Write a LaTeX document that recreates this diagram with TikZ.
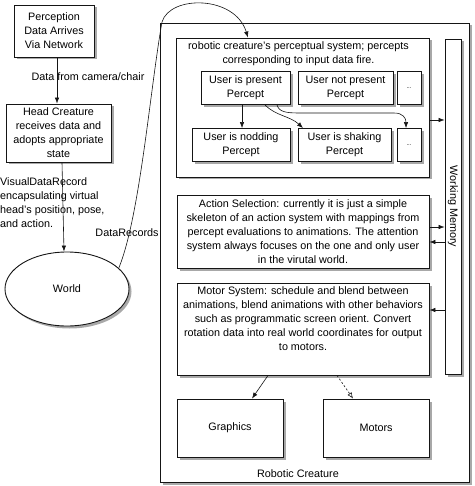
\documentclass[tikz,border=0pt]{standalone}
\usepackage{fontspec}
\setmainfont{Liberation Sans}
\usetikzlibrary{arrows.meta,positioning,shapes.geometric,shadows}
\def\wThin{0.6pt}
\def\wRegular{0.9pt}
\definecolor{cInk}{HTML}{151515}
\definecolor{cShade}{HTML}{8C8C8C}
\tikzset{
  fig/.style={font=\fontsize{10.8}{14}\selectfont, every node/.style={align=center}},
  box/.style={draw=cInk, line width=\wRegular, fill=white, inner sep=2pt,
    drop shadow={shadow xshift=2.5pt, shadow yshift=-2.5pt, fill=cShade, opacity=0.75}},
  outer/.style={box, line width=\wThin, minimum width=309, minimum height=459},
  percept/.style={box, minimum height=33},
  dots/.style={percept, minimum width=24, font=\fontsize{6}{7}\selectfont},
  world/.style={box, ellipse, minimum width=124, minimum height=74},
  lbl/.style={inner sep=1pt},
  flow/.style={draw=cInk, line width=\wThin, -{Latex[length=6pt, width=4.5pt]}},
  dflow/.style={draw=cInk, line width=\wThin, dash pattern=on 2pt off 2pt, -{Latex[open, length=6pt, width=5pt]}},
}

\begin{document}
\begin{tikzpicture}[fig, x=1pt, y=-1pt]
% pixel grid of the figure, y grows downwards
\useasboundingbox (0,0) rectangle (474,486);

% robotic creature frame (drawn first, everything sits on it)
\node[outer] (rc) at (314.5,252.5) {};
\node[lbl] (rclbl) at (298,474) {Robotic Creature};

% left column: input, head, world
\node[box, minimum width=80, minimum height=52] (percin) at (54,31) {Perception\\ Data Arrives\\ Via Network};
\node[box, minimum width=105, minimum height=58] (head) at (58.5,133) {Head Creature\\ receives data and\\ adopts appropriate\\ state};
\node[world] (world) at (67,289) {World};
\node[lbl, anchor=north west, align=left] (vdr) at (-1,176) {VisualDataRecord\\ encapsulating virtual\\ head's position, pose,\\ and action.};
\node[lbl] (camlbl) at (88,77) {Data from camera/chair};
\node[lbl] (drlbl) at (127,233) {DataRecords};

% perceptual system
\node[box, minimum width=253, minimum height=139] (perc) at (302.5,107.5) {};
\node[lbl, anchor=north] (perctxt) at ([xshift=-4pt, yshift=-3pt]perc.north) {robotic creature's perceptual system; percepts\\ corresponding to input data fire.};
\node[percept, minimum width=89] (pres)  at (245.5,88) {User is present\\ Percept};
\node[percept, minimum width=95] (notp)  at (345.5,88) {User not present\\ Percept};
\node[dots] (dotsa) at (409,88) {...};
\node[percept, minimum width=98] (nod)   at (241,145) {User is nodding\\ Percept};
\node[percept, minimum width=93] (shake) at (344.5,145) {User is shaking\\ Percept};
\node[dots] (dotsb) at (409,145) {...};

% working memory column
\node[box, minimum width=16, minimum height=335] (wm) at (453,206.5) {};
\node[lbl, rotate=-90] (wmtxt) at (wm.center) {Working Memory};

% action selection and motor system
\node[box, minimum width=252, minimum height=73] (act) at (303,231.5) {Action Selection: currently it is just a simple\\ skeleton of an action system with mappings from\\ percept evaluations to animations.  The attention\\ system always focuses on the one and only user\\ in the virutal world.};
\node[box, minimum width=252, minimum height=92] (motor) at (303,329) {};
\node[lbl, anchor=north] (motortxt) at ([yshift=-3pt]motor.north) {Motor System:  schedule and blend between\\ animations, blend animations with other behaviors\\ such as programmatic screen orient.  Convert\\ rotation data into real world coordinates for output\\ to motors.};

% outputs
\node[box, minimum width=106, minimum height=58] (gfx) at (230,428) {Graphics};
\node[box, minimum width=106, minimum height=58] (mot) at (376,428) {Motors};

% left column flow
\draw[flow] ([xshift=3pt]percin.south) -- ([xshift=-1.5pt]head.north);
\draw[flow] ([xshift=3.5pt]head.south) -- ([xshift=-3pt]world.north);
\draw[flow] (world.22) .. controls (140,216) and (150,90) .. (162,22)
  .. controls (170,-5) and (235,-5) .. ([xshift=-54.5pt]perc.north);

% percept firing
\draw[flow] ([xshift=-3.5pt]pres.south) -- ([xshift=-3.5pt]pres.south |- nod.north);
\draw[flow] ([xshift=19.5pt]pres.south) .. controls (276,116) and (290,116) .. ([xshift=-41.5pt]shake.north);
\draw[flow] ([xshift=31.5pt]pres.south) .. controls (279,112) and (286,113) .. (300,113)
  -- (394,113) .. controls (403,113) and (406,118) .. ([xshift=-3pt]dotsb.north);

% working memory traffic
\draw[flow] ([yshift=-12.5pt]perc.east) -- ([yshift=-12.5pt]perc.east -| wm.west);
\draw[flow] ([yshift=4.5pt]act.east) -- ([yshift=4.5pt]act.east -| wm.west);
\draw[flow] ([yshift=-10.5pt]act.east -| wm.west) -- ([yshift=-10.5pt]act.east);
\draw[flow] ([yshift=19pt]motor.east -| wm.west) -- ([yshift=19pt]motor.east);

% outputs
\draw[flow] ([xshift=-35pt]motor.south) -- ([xshift=22pt]gfx.north);
\draw[dflow] ([xshift=34pt]motor.south) -- ([xshift=-23pt]mot.north);
\end{tikzpicture}
\end{document}
